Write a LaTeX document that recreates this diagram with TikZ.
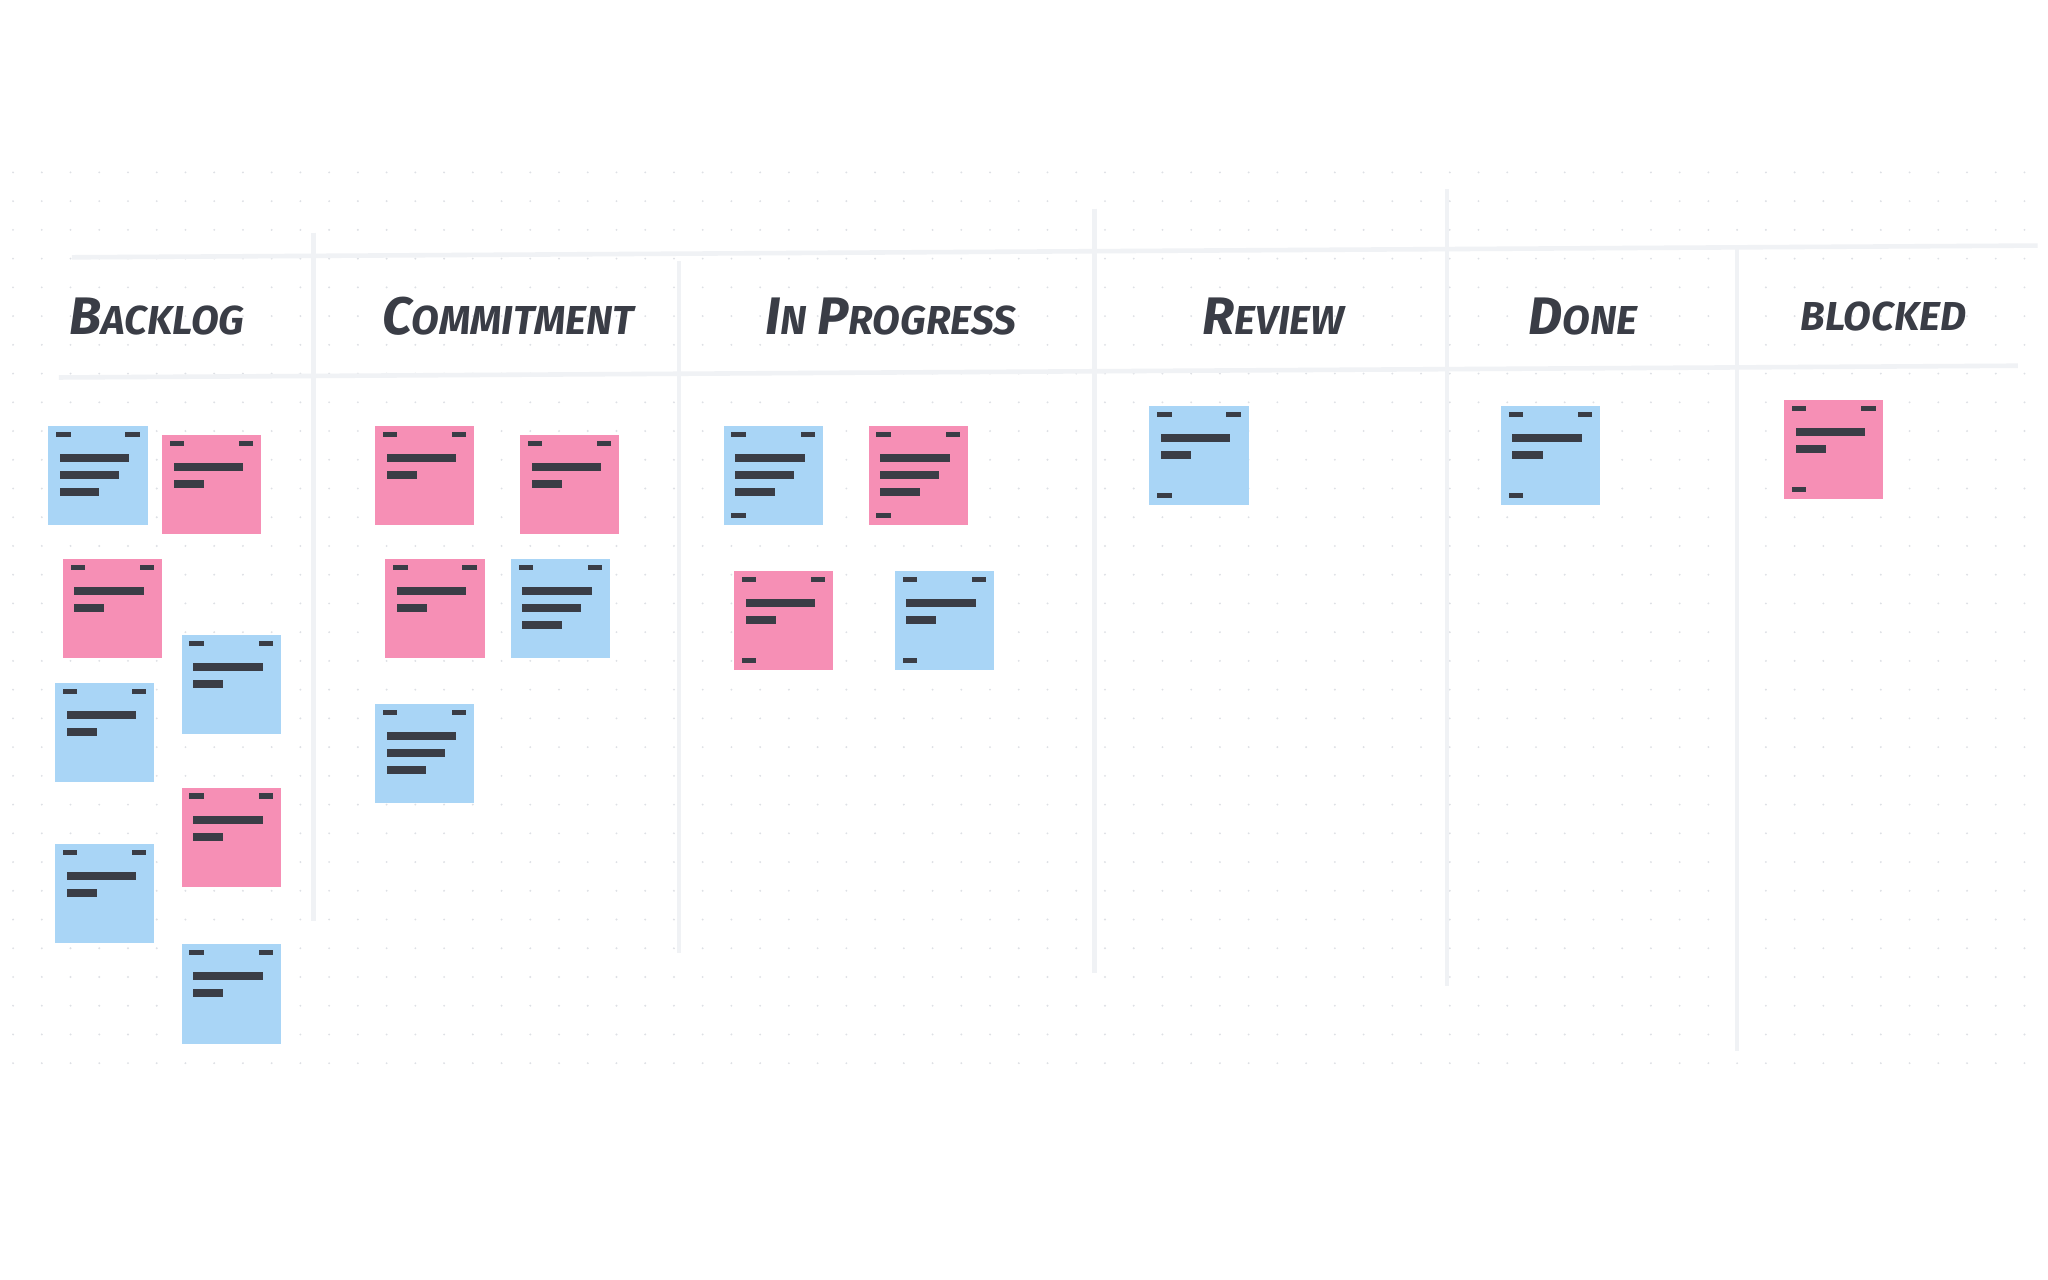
\documentclass[tikz,border=0pt]{standalone}
\usepackage{fontspec}
\setmainfont{Fira Sans}
\definecolor{nblue}{HTML}{A9D5F6}
\definecolor{npink}{HTML}{F68FB5}
\definecolor{ink}{HTML}{3A3D46}
\definecolor{gridl}{HTML}{F0F2F5}
\definecolor{dotc}{HTML}{DDE0E5}
\newcommand{\bigc}[1]{{\fontsize{11.5}{14}\selectfont #1}}
\newcommand{\smc}[1]{{\fontsize{8.8}{11}\selectfont #1}}
% \stickynote{name}{x}{y}{color}{lines}{bottomdash}
\newcommand{\stickynote}[6]{%
  \begin{scope}[shift={(#2,#3)}]
    \node[notebox,fill=#4] (#1) at (38,38) {};
    \fill[ink] (6,4.5) rectangle (17,8.5);
    \fill[ink] (59,4.5) rectangle (70,8.5);
    \ifnum#5=3
      \fill[ink] (9,21.5) rectangle (62,27.5);
      \fill[ink] (9,34.5) rectangle (54,40.5);
      \fill[ink] (9,47.5) rectangle (39,53.5);
    \else
      \fill[ink] (9,21.5) rectangle (62,27.5);
      \fill[ink] (9,34.5) rectangle (32,40.5);
    \fi
    \ifnum#6=1
      \fill[ink] (6,66.5) rectangle (17,70.5);
    \fi
  \end{scope}}
\begin{document}
\begin{tikzpicture}[x=0.1mm,y=-0.1mm,
  notebox/.style={minimum width=7.6mm,minimum height=7.6mm,inner sep=0pt,draw=none},
  gline/.style={draw=gridl,line width=1pt},
  head/.style={text=ink,font=\bfseries\itshape,anchor=center}]
\useasboundingbox (0,0) rectangle (1568,980);
\fill[white] (0,0) rectangle (1568,980);
\foreach \i in {0,...,71}{\foreach \j in {0,...,31}{
  \fill[dotc] (10+22*\i,132+22*\j) circle (0.8);}}
% grid lines
\coordinate (h1a) at (55,197); \coordinate (h1b) at (1560,188);
\coordinate (h2a) at (45,289); \coordinate (h2b) at (1545,280);
\draw[gline] (h1a) -- (h1b);
\draw[gline] (h2a) -- (h2b);
\coordinate (v1a) at (240,178); \coordinate (v1b) at (240,705);
\coordinate (v2a) at (520,200); \coordinate (v2b) at (520,730);
\coordinate (v3a) at (838,160); \coordinate (v3b) at (838,745);
\coordinate (v4a) at (1108,145); \coordinate (v4b) at (1108,755);
\coordinate (v5a) at (1330,190); \coordinate (v5b) at (1330,805);
\foreach \v in {1,...,5}{\draw[gline] (v\v a) -- (v\v b);}
% headers
\node[head] (hb) at (120,242) {\bigc{B}\smc{ACKLOG}};
\node[head] (hc) at (389,242) {\bigc{C}\smc{OMMITMENT}};
\node[head] (hp) at (682,242) {\bigc{I}\smc{N} \bigc{P}\smc{ROGRESS}};
\node[head] (hr) at (975,242) {\bigc{R}\smc{EVIEW}};
\node[head] (hd) at (1212,242) {\bigc{D}\smc{ONE}};
\node[head] (hk) at (1442,242) {\smc{BLOCKED}};
% backlog
\stickynote{b1}{37}{326}{nblue}{3}{0}
\stickynote{b2}{124}{333}{npink}{2}{0}
\stickynote{b3}{48}{428}{npink}{2}{0}
\stickynote{b4}{139}{486}{nblue}{2}{0}
\stickynote{b5}{42}{523}{nblue}{2}{0}
\stickynote{b6}{139}{603}{npink}{2}{0}
\stickynote{b7}{42}{646}{nblue}{2}{0}
\stickynote{b8}{139}{723}{nblue}{2}{0}
% commitment
\stickynote{c1}{287}{326}{npink}{2}{0}
\stickynote{c2}{398}{333}{npink}{2}{0}
\stickynote{c3}{295}{428}{npink}{2}{0}
\stickynote{c4}{391}{428}{nblue}{3}{0}
\stickynote{c5}{287}{539}{nblue}{3}{0}
% in progress
\stickynote{p1}{554}{326}{nblue}{3}{1}
\stickynote{p2}{665}{326}{npink}{3}{1}
\stickynote{p3}{562}{437}{npink}{2}{1}
\stickynote{p4}{685}{437}{nblue}{2}{1}
% review, done, blocked
\stickynote{r1}{880}{311}{nblue}{2}{1}
\stickynote{d1}{1149}{311}{nblue}{2}{1}
\stickynote{k1}{1366}{306}{npink}{2}{1}
\end{tikzpicture}
\end{document}
